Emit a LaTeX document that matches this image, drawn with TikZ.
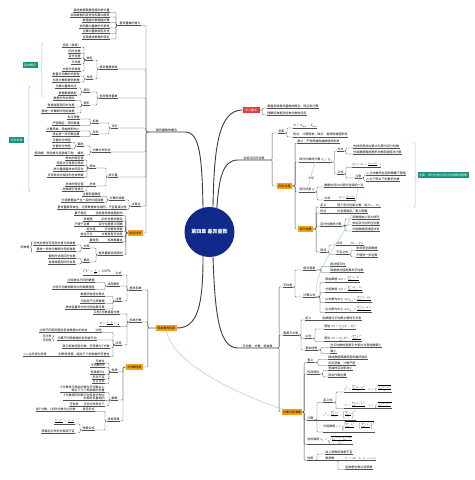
\documentclass[tikz,border=0pt]{standalone}
\usepackage{fontspec}
\setmainfont{Noto Sans CJK SC}
\usetikzlibrary{calc,positioning,decorations.pathreplacing}
\definecolor{navy}{HTML}{10298A}
\definecolor{lgray}{HTML}{505050}
\definecolor{dgray}{HTML}{3C3C3C}
\definecolor{obox}{HTML}{F5A019}
\definecolor{rbox}{HTML}{E23B3B}
\definecolor{tbox}{HTML}{16917B}
\definecolor{lteal}{HTML}{93CFC6}
\tikzset{
  every node/.style={font=\fontsize{9}{10.8}\selectfont, inner xsep=1.2pt, inner ysep=1.5pt},
  lnk/.style={draw=lgray, line width=1pt},
  tp/.style={append after command={(\tikzlastnode.south west) edge[lnk] (\tikzlastnode.south east)}},
  L/.style={tp, anchor=south east},
  R/.style={tp, anchor=south west},
  ll/.style={lnk, rounded corners=3pt, to path={-- ++(-#1,0) |- (\tikztotarget)}},
  ll/.default=2,
  rl/.style={lnk, rounded corners=3pt, to path={-- ++(#1,0) |- (\tikztotarget)}},
  rl/.default=2,
  fm/.style={font=\fontsize{9}{11}\selectfont},
  main/.style={draw=dgray, line width=2.7pt},
  ob/.style={fill=obox, inner xsep=4.5pt, inner ysep=4.5pt},
  tb/.style={fill=tbox, text=white, inner xsep=4.5pt, inner ysep=4.5pt},
  rel/.style={draw=lteal, line width=1.2pt},
  smy/.style={draw=lteal, line width=1.5pt, decorate, decoration={brace, amplitude=7pt}},
  smg/.style={lnk, decorate, decoration={brace, amplitude=4pt}},
}
\begin{document}
\begin{tikzpicture}[x=3pt,y=-3pt]
\useasboundingbox (0,0) rectangle (474,480);
\fill[white] (0,0) rectangle (474,480);

\node[circle, fill=navy, minimum size=150pt, inner sep=0pt, text=white,
  font=\bfseries\fontsize{15}{18}\selectfont] (root) at (209.5,232) {第四章 差异量数};

% 学习重点
\node[fill=rbox, text=white, inner xsep=7.5pt, inner ysep=4.5pt] (focus) at (251,110) {学习重点};
\draw[main] (root.82) .. controls (214,150) and (218,110) .. (focus.west);
\node[R] (focus-1) at (267,108) {掌握各种差异量数的概念、特点及计算};
\node[R] (focus-2) at (267,115) {理解标准差及标准分数的应用};
\draw[rl=3] (focus.east) to (focus-1.south west);
\draw[rl=3] (focus.east) to (focus-2.south west);

% 全距与四分位差
\node[minimum width=96pt, anchor=south west] (range) at (238,160) {全距与四分位差};
\draw[main] (root.73) .. controls (219,180) and (222,160) .. (range.south west) -- (range.south east);
\node[R] (rng) at (278,133) {全距};
\draw[rl] (range.south east) to (rng.south west);
\node[R, fm] (rng-1) at (293,128) {$R=X_{\max}-X_{\min}$};
\node[R] (rng-2) at (293,137) {优点：计算简单；缺点：易受极端值影响};
\draw[rl] (rng.south east) to (rng-1.south west);
\draw[rl] (rng.south east) to (rng-2.south west);

\node[ob, anchor=west] (quart) at (277,186) {四分位差};
\draw[rl] (range.south east) to (quart.west);
\node[R] (quart-1) at (297,143) {意义：不受两端极端数值的影响};
\node[R] (q1) at (299,162) {四分位数的计算 $Q_1$、$Q_3$};
\node[R] (q2) at (299,192) {四分位差 $Q$};
\foreach \n in {quart-1,q1,q2} \draw[rl=3] (quart.east) to (\n.south west);
\node[R] (q1-a) at (337,151) {方法};
\node[R] (q1-b) at (337,174) {公式};
\draw[rl] (q1.south east) to (q1-a.south west);
\draw[rl] (q1.south east) to (q1-b.south west);
\foreach \y/\tx [count=\i] in {148/先排序再找出第25与第75百分位数, 154/分组数据需按累积次数用插值法计算}
  {\node[R] (q1-a\i) at (353,\y) {\tx}; \draw[rl] (q1-a.south east) to (q1-a\i.south west);}
\node[R, fm] (q1-bf) at (352,167.5) {$Q_1=L_b+\frac{N/4-F_b}{f}\cdot i$};
\node[R] (q1-c) at (355,178) {注意};
\draw[rl] (q1-b.south east) to (q1-bf.south west);
\draw[rl] (q1-b.south east) to (q1-c.south west);
\foreach \y/\tx [count=\i] in {175/$L_b$为中数所在组的精确下限值, 181/$F_b$为下限以下的累积次数}
  {\node[R] (q1-c\i) at (366,\y) {\tx}; \draw[rl] (q1-c.south east) to (q1-c\i.south west);}
\node[R] (q2-1) at (324,187) {数据中间50\%部分全距的一半};
\node[R] (q2-2) at (324,200) {公式};
\node[R, fm] (q2-2f) at (339,200) {$Q=\frac{Q_3-Q_1}{2}$};
\draw[rl] (q2.south east) to (q2-1.south west);
\draw[rl] (q2.south east) to (q2-2.south west);
\draw[lnk] (q2-2.south east) -- (q2-2f.south west);
\draw[rel] (q1.south) .. controls (311,172) and (311,182) .. (q2.north);
\node[fill=white, inner sep=0.6pt, text=lgray] (q12) at (311,178) {求差};

\node[ob, anchor=west] (pct) at (298,229) {百分位差};
\draw[rl=3] (quart.east) to (pct.west);
\node[R] (pct-1) at (320,207) {定义};
\node[R] (pct-1a) at (337,207) {两个百分位数之差，如$P_{90}-P_{10}$};
\node[R] (pct-2) at (320,213) {优点};
\node[R] (pct-2a) at (337,213) {比全距稳定，意义明确};
\node[R] (pct-3) at (320,226) {百分位数的计算};
\node[R] (pct-4) at (320,252) {特点};
\foreach \n in {pct-1,pct-2,pct-3,pct-4} \draw[rl=3] (pct.east) to (\n.south west);
\draw[lnk] (pct-1.south east) -- (pct-1a.south west);
\draw[lnk] (pct-2.south east) -- (pct-2a.south west);
\foreach \y/\tx [count=\i] in {219/将数据由小到大排列, 225/求出百分位所在位置, 231/分组数据用插值法求}
  {\node[R] (pct-3\i) at (352,\y) {\tx}; \draw[rl=3] (pct-3.south east) to (pct-3\i.south west);}
\node[R] (pct-4a) at (336,245) {公式};
\node[R, fm] (pct-4af) at (350,245) {$P_{90}-P_{10}$};
\node[R] (pct-4b) at (336,254.5) {不足之处};
\draw[rl] (pct-4.south east) to (pct-4a.south west);
\draw[rl] (pct-4.south east) to (pct-4b.south west);
\draw[lnk] (pct-4a.south east) -- (pct-4af.south west);
\foreach \y/\tx [count=\i] in {250.5/未利用全部数据, 257/不便进一步运算}
  {\node[R] (pct-4b\i) at (356,\y) {\tx}; \draw[rl] (pct-4b.south east) to (pct-4b\i.south west);}

\node[tb] (sum3) at (443,175) {全距、四分位差与百分位差都较粗略};
\draw[smy] (414,142) -- (414,208);

% 平均差、方差、标准差
\node[minimum width=117pt, anchor=south west] (disp) at (238,348) {平均差、方差、标准差};
\draw[main] (root.-82) .. controls (215,315) and (219,348) .. (disp.south west) -- (disp.south east);
\node[R] (b1) at (283,287) {平均差};
\draw[rl] (disp.south east) to (b1.south west);
\node[R] (b1-1) at (303,270) {绝对离差};
\node[R] (b1-2) at (303,297) {计算公式};
\draw[rl] (b1.south east) to (b1-1.south west);
\draw[rl] (b1.south east) to (b1-2.south west);
\foreach \y/\tx [count=\i] in {266.5/绝对值平均, 272.5/离差绝对值的算术平均数}
  {\node[R] (b1-1\i) at (330,\y) {\tx}; \draw[rl=5] (b1-1.south east) to (b1-1\i.south west);}
\foreach \y/\tx [count=\i] in {282.5/原始数据 $AD=\frac{\sum|X-\bar X|}{N}$, 292.5/分组数据 $AD=\frac{\sum f|X_c-\bar X|}{N}$, 302.5/以中数为中心 $AD_{Md}=\frac{\sum|X-Md|}{N}$, 312.5/以众数为中心 $AD_{Mo}=\frac{\sum|X-Mo|}{N}$}
  {\node[R] (b1-2\i) at (325,\y) {\tx}; \draw[rl=4] (b1-2.south east) to (b1-2\i.south west);}
\draw[rel] (q1-c.south) .. controls (356,240) and (318,250) .. (b1-2.north east);

\node[R] (b2) at (283,335) {离差平方和};
\draw[rl] (disp.south east) to (b2.south west);
\node[R] (b2-1) at (305,320) {定义};
\node[R] (b2-1a) at (322,320) {各数据与平均数之差的平方和};
\node[R] (b2-2) at (305,338.5) {公式};
\node[R] (b2-3) at (305,350) {基本性质};
\foreach \n in {b2-1,b2-2,b2-3} \draw[rl] (b2.south east) to (\n.south west);
\draw[lnk] (b2-1.south east) -- (b2-1a.south west);
\foreach \y/\tx [count=\i] in {329/原始 $SS=\sum(X-\bar X)^2$, 341.5/简化 $SS=\sum X^2-\frac{(\sum X)^2}{N}$}
  {\node[R] (b2-2\i) at (324,\y) {\tx}; \draw[rl=3] (b2-2.south east) to (b2-2\i.south west);}
\foreach \y/\tx [count=\i] in {347.5/对平均数的离差平方和比对其他数都小, 353.5/最小}
  {\node[R] (b2-3\i) at (330,\y) {\tx}; \draw[rl=3] (b2-3.south east) to (b2-3\i.south west);}

\node[ob, anchor=west, inner xsep=3pt] (b3) at (282,412) {方差与标准差};
\draw[rl] (disp.south east) to (b3.west);
\node[R] (b3-1) at (307,362.5) {意义};
\node[R] (b3-2) at (307,374) {优良特性};
\node[R] (b3-3) at (307,420) {计算};
\node[R] (b3-4) at (307,444.5) {总标准差 $\sigma_T=\sqrt{\frac{\sum n_i s_i^2+\sum n_i d_i^2}{\sum n_i}}$};
\node[R] (b3-5) at (307,460.5) {性质};
\foreach \n in {b3-1,b3-2,b3-3,b3-4,b3-5} \draw[rl] (b3.east) to (\n.south west);
\foreach \y/\tx [count=\i] in {359.5/描述数据离散程度的最好指标, 365.5/反应灵敏，计算严密}
  {\node[R] (b3-1\i) at (328,\y) {\tx}; \draw[rl=4] (b3-1.south east) to (b3-1\i.south west);}
\foreach \y/\tx [count=\i] in {370.5/受抽样变动影响小, 377/适合代数运算}
  {\node[R] (b3-2\i) at (328,\y) {\tx}; \draw[rl=3] (b3-2.south east) to (b3-2\i.south west);}
\node[R] (b3-3a) at (323,402.5) {定义式};
\node[R] (b3-3b) at (323,420) {$s^2=\frac{\sum X^2}{n}-\left(\frac{\sum X}{n}\right)^2$};
\node[R] (b3-3c) at (323,432) {分组数据 $s=\sqrt{\frac{\sum fX_c^2}{n}-\left(\frac{\sum fX_c}{n}\right)^2}$};
\draw[rl=3] (b3-3.south east) to (b3-3a.south west);
\draw[lnk] (b3-3.south east) -- (b3-3b.south west);
\draw[rl=3] (b3-3.south east) to (b3-3c.south west);
\foreach \y/\tx [count=\i] in {392/$\sigma^2=\frac{\sum(X-\mu)^2}{N}$ \quad $\sigma=\sqrt{\frac{\sum(X-\mu)^2}{N}}$, 408.5/$s^2=\frac{\sum(X-\bar X)^2}{n-1}$ \quad $s=\sqrt{\frac{\sum(X-\bar X)^2}{n-1}}$}
  {\node[R] (b3-3a\i) at (344,\y) {\tx}; \draw[rl=3] (b3-3a.south east) to (b3-3a\i.south west);}
\node[R] (b3-5a) at (325,454) {加上常数标准差不变};
\node[R] (b3-5b) at (325,460.5) {乘常数};
\draw[rl=3] (b3-5.south east) to (b3-5a.south west);
\draw[lnk] (b3-5.south east) -- (b3-5b.south west);
\node[R, fm] (b3-5c) at (345,460.5) {$Y=cX\;\Rightarrow\; s_Y=c\,s_X$};
\node[R] (b3-5d) at (345,469.5) {标准差也乘以该常数};
\draw[lnk] (b3-5b.south east) -- (b3-5c.south west);
\draw[rl=3] (b3-5b.south east) to (b3-5d.south west);

% 差异量数的概念
\node[minimum width=111pt, anchor=south west] (concept) at (148,132) {差异量数的概念};
\draw[main] (root.105) .. controls (202,158) and (200,132) .. (concept.south east) -- (concept.south west);

\node[L] (mean) at (141,25.5) {差异量数的意义};
\draw[ll] (concept.south west) to (mean.south east);
\foreach \y/\tx [count=\i] in {12.5/描述数据离散程度的统计量, 17/反映数据的变异性和离中趋势, 22.5/数值越大数据越分散, 28/说明集中量数的代表性, 33.5/与集中量数相互补充, 39/全面描述数据的特征}
  {\node[L] (mean-\i) at (110,\y) {\tx}; \draw[ll=3] (mean.south west) to (mean-\i.south east);}

\node[L] (kind) at (118,69) {差异量数种类};
\draw[ll] (concept.south west) to (kind.south east);
\node[L] (kind-a) at (93,60) {类型};
\node[L] (kind-b) at (93,79) {作用};
\draw[ll] (kind.south west) to (kind-a.south east);
\draw[ll] (kind.south west) to (kind-b.south east);
\foreach \y/\tx [count=\i] in {47/全距（极差）, 53/四分位差, 58/百分位差, 64/平均差, 71/方差与标准差}
  {\node[L] (kind-a\i) at (81,\y) {\tx}; \draw[ll] (kind-a.south west) to (kind-a\i.south east);}
\foreach \y/\tx [count=\i] in {76/衡量平均数的代表性, 82/为统计推断提供依据}
  {\node[L] (kind-b\i) at (80,\y) {\tx}; \draw[ll] (kind-b.south west) to (kind-b\i.south east);}

\node[L] (choose) at (118,98) {选用差异量数};
\draw[ll] (concept.south west) to (choose.south east);
\node[L] (choose-a) at (90,92) {原则};
\node[L] (choose-b) at (90,105) {情形};
\draw[ll] (choose.south west) to (choose-a.south east);
\draw[ll] (choose.south west) to (choose-b.south east);
\foreach \y/\tx [count=\i] in {88/与集中量数对应, 95/根据数据类型}
  {\node[L] (choose-a\i) at (77,\y) {\tx}; \draw[ll] (choose-a.south west) to (choose-a\i.south east);}
\foreach \y/\tx [count=\i] in {100.5/数据分布对称时, 107/有极端值用四分位差, 113/需进一步推断时用标准差}
  {\node[L] (choose-b\i) at (75,\y) {\tx}; \draw[ll] (choose-b.south west) to (choose-b\i.south east);}

\node[L] (eval) at (118,128) {评价};
\draw[ll] (concept.south west) to (eval.south east);
\node[L] (eval-a) at (99,123) {标准};
\node[L] (eval-b) at (99,134) {条件};
\draw[ll] (eval.south west) to (eval-a.south east);
\draw[ll] (eval.south west) to (eval-b.south east);
\foreach \y/\tx [count=\i] in {119/反应灵敏, 125.5/严密确定，简明易懂}
  {\node[L] (eval-a\i) at (80,\y) {\tx}; \draw[ll] (eval-a.south west) to (eval-a\i.south east);}
\foreach \y/\tx [count=\i] in {131/计算简单，受抽样影响小, 136.5/适合进一步代数运算}
  {\node[L] (eval-b\i) at (80,\y) {\tx}; \draw[ll] (eval-b.south west) to (eval-b\i.south east);}

\node[L] (shape) at (111,152) {次数分布形态};
\draw[ll] (concept.south west) to (shape.south east);
\node[L] (shape-a) at (84,146) {偏态};
\node[L] (shape-b) at (84,155) {峰态};
\draw[ll] (shape.south west) to (shape-a.south east);
\draw[ll] (shape.south west) to (shape-b.south east);
\foreach \y/\tx [count=\i] in {142.5/正偏态分布图, 148.5/负偏态分布图}
  {\node[L] (shape-a\i) at (71,\y) {\tx}; \draw[ll] (shape-a.south west) to (shape-a\i.south east);}
\node[L] (shape-b1) at (74,155) {低阔峰、常态峰与高狭峰三种};
\draw[lnk] (shape-b.south west) -- (shape-b1.south east);

\node[L] (stat) at (118,177) {统计量};
\draw[ll] (concept.south west) to (stat.south east);
\node[L] (stat-a) at (96,168) {样本};
\node[L] (stat-b) at (96,186) {总体};
\draw[ll] (stat.south west) to (stat-a.south east);
\draw[ll] (stat.south west) to (stat-b.south east);
\foreach \y/\tx [count=\i] in {160/样本的特征值, 165.5/用英文字母表示样本, 171.5/统计量随着样本而变化, 177.5/可用来估计相应的总体参数}
  {\node[L] (stat-a\i) at (84,\y) {\tx}; \draw[ll] (stat-a.south west) to (stat-a\i.south east);}
\node[L] (stat-b1) at (84,186) {总体的特征值};
\node[L] (stat-b2) at (84,191) {用希腊字母表示};
\draw[lnk] (stat-b.south west) -- (stat-b1.south east);
\draw[ll] (stat-b.south west) to (stat-b2.south east);

\node[L] (note) at (141,206) {注意点};
\draw[ll] (concept.south west) to (note.south east);
\node[L] (note-a) at (125,200) {计算的误差};
\node[L] (note-b) at (127,209.5) {差异量数带单位，与原数据单位相同，不宜直接比较};
\draw[ll] (note.south west) to (note-a.south east);
\draw[ll] (note.south west) to (note-b.south east);
\node[L] (note-a1) at (101,196.5) {注意取值精度};
\node[L] (note-a2) at (104,202.5) {分组数据会产生一定的归组误差};
\draw[ll] (note-a.south west) to (note-a1.south east);
\draw[ll] (note-a.south west) to (note-a2.south east);

\node[ob, anchor=east] (cmp) at (143,233) {特点比较};
\draw[ll] (concept.south west) to (cmp.east);
\foreach \y/\a/\b [count=\i] in {215.5/全距易受极端值影响/最不稳定, 221/四分位差较稳定/较粗略, 226.5/百分位差意义明确/不便于运算, 231/平均差较灵敏/绝对值, 236.5/方差具有可加性/单位平方, 242/标准差最佳/最常用}
  {\node[L] (cmp-\i) at (123,\y) {\a};
   \node[L] (cmpg\i) at ([xshift=-24pt]cmp-\i.south west) {\b};
   \draw[ll] (cmp.west) to (cmp-\i.south east);
   \draw[lnk] (cmp-\i.south west) -- (cmpg\i.south east);}
\node[L] (rule) at (123,255) {差异量数选用原则};
\draw[ll] (cmp.west) to (rule.south east);
\node[L] (rule-a) at (90,248) {对称};
\node[L] (rule-b) at (90,262) {偏态};
\draw[ll] (rule.south west) to (rule-a.south east);
\draw[ll] (rule.south west) to (rule-b.south east);
\foreach \y/\tx [count=\i] in {245/分布对称时可选用方差与标准差, 251.5/需进一步统计推断时用标准差}
  {\node[L] (rule-a\i) at (76,\y) {\tx}; \draw[ll] (rule-a.south west) to (rule-a\i.south east);}
\foreach \y/\tx [count=\i] in {258.5/偏斜时选用四分位差, 264/有极端值用四分位差}
  {\node[L] (rule-b\i) at (76,\y) {\tx}; \draw[ll] (rule-b.south west) to (rule-b\i.south east);}
\draw[smg] (32,252.5) -- (32,241.5);
\node[anchor=east] (rule-s) at (30,247) {标准差};

\node[tb] (sum1) at (30,65) {基本概念};
\draw[smy] (43,97) -- (43,43);
\node[tb] (sum2) at (16.5,140) {评价标准};
\draw[smy] (30,192) -- (30,86);

% 标准差的应用
\node[ob, anchor=east] (apply) at (177,328) {标准差的应用};
\draw[main] (root.-105) .. controls (203,305) and (198,328) .. (apply.east);
\node[L] (cv) at (142,290) {差异系数};
\draw[ll=8] (apply.west) to (cv.south east);
\node[L] (cv-1) at (122,275) {公式};
\node[L, font=\fontsize{11}{13}\selectfont] (cv-1f) at (111,275) {$CV=\frac{s}{\bar X}\times100\%$};
\draw[lnk] (cv-1.south west) -- (cv-1f.south east);
\node[L] (cv-2) at (120,286) {适用情形};
\node[L] (cv-3) at (122,301) {注意};
\foreach \n in {cv-1,cv-2,cv-3} \draw[ll] (cv.south west) to (\n.south east);
\foreach \y/\tx [count=\i] in {282.5/比较单位不同的数据, 289.5/比较平均数相差较大的离散程度}
  {\node[L] (cv-2\i) at (95,\y) {\tx}; \draw[ll] (cv-2.south west) to (cv-2\i.south east);}
\foreach \y/\tx [count=\i] in {296.5/数据须有绝对零点, 303.5/只能用于比率数据, 309/样本容量较大时比较结果可靠}
  {\node[L] (cv-3\i) at (105,\y) {\tx}; \draw[ll] (cv-3.south west) to (cv-3\i.south east);}

\node[L] (zs) at (142,322) {标准分数};
\draw[ll=8] (apply.west) to (zs.south east);
\node[L] (zs-1) at (120,314) {又称Z分数或基分数};
\node[L, fm] (zs-2) at (120,326.5) {$Z=\frac{X-\bar X}{s}=\frac{x}{s}$};
\node[L] (zs-3) at (122,345) {应用};
\foreach \n in {zs-1,zs-2,zs-3} \draw[ll] (zs.south west) to (\n.south east);
\node[L] (zs-3a) at (102,332.5) {比较};
\node[L] (zs-3a1) at (88,332.5) {比较不同观测值在各自数据中的地位};
\node[L] (zs-3b) at (97,340) {计算不同质数据的总和或平均};
\node[L] (zs-3c) at (110,348) {表示标准测验分数，可转换为T分数};
\node[L] (zs-3d) at (110,356.5) {判断异常值，超出三个标准差的可舍去};
\node[L] (zs-3e) at (47,356.5) {$\pm3s$以外视为异常};
\foreach \n in {zs-3a,zs-3b,zs-3c,zs-3d} \draw[ll] (zs-3.south west) to (\n.south east);
\draw[lnk] (zs-3a.south west) -- (zs-3a1.south east);
\draw[lnk] (zs-3d.south west) -- (zs-3e.south east);
\draw[smg] (54,341.5) -- (54,335);
\node[anchor=east, align=right] (zs-s) at (52,338.5) {可比性\\可加性};

\node[ob, anchor=east] (zp) at (143,367) {Z分数性质};
\draw[ll=8] (apply.west) to (zp.east);
\node[L] (zp-1) at (118,372) {性质};
\node[L] (zp-2) at (118,400) {解释};
\node[L] (zp-3) at (120,421) {线性转换};
\foreach \n in {zp-1,zp-2,zp-3} \draw[ll=3] (zp.west) to (\n.south east);
\foreach \y/\tx [count=\i] in {363/无单位, 367.5/平均数为0, 374.5/标准差为1, 379/形态不变, 383.5/可正可负}
  {\node[L] (zp-1\i) at (105,\y) {\tx}; \draw[ll] (zp-1.south west) to (zp-1\i.south east);}
\node[L, align=right] (zp-2a) at (105,392.5) {Z分数表示原始分数在平均数以上\\或以下几个标准差的位置};
\node[L, align=right] (zp-2b) at (105,400.5) {Z分数相同则表示在各自分布中\\的相对位置相同};
\node[L] (zp-2c) at (105,406) {正态分布条件下};
\node[L] (zp-2d) at (79,406) {可查表};
\draw[ll] (zp-2.south west) to (zp-2a.south east);
\draw[lnk] (zp-2.south west) -- (zp-2b.south east);
\draw[ll] (zp-2.south west) to (zp-2c.south east);
\draw[lnk] (zp-2c.south west) -- (zp-2d.south east);
\node[L] (zp-3a) at (95,411.5) {常见形式};
\node[L] (zp-3a1) at (76,411.5) {如T分数、CEEB分数与IQ分数};
\node[L] (zp-3b) at (95,430) {转换公式};
\draw[ll] (zp-3.south west) to (zp-3a.south east);
\draw[ll] (zp-3.south west) to (zp-3b.south east);
\draw[lnk] (zp-3a.south west) -- (zp-3a1.south east);
\node[L, fm] (zp-3b1) at (75,424) {$\frac{X'-\bar X'}{s'}=\frac{X-\bar X}{s}$};
\node[L] (zp-3b2) at (75,433) {转换后分布形态保持不变};
\draw[ll] (zp-3b.south west) to (zp-3b1.south east);
\draw[ll] (zp-3b.south west) to (zp-3b2.south east);

\draw[rel] (apply.south) .. controls (172,362) and (232,392) .. (b3.north west);
\end{tikzpicture}
\end{document}
